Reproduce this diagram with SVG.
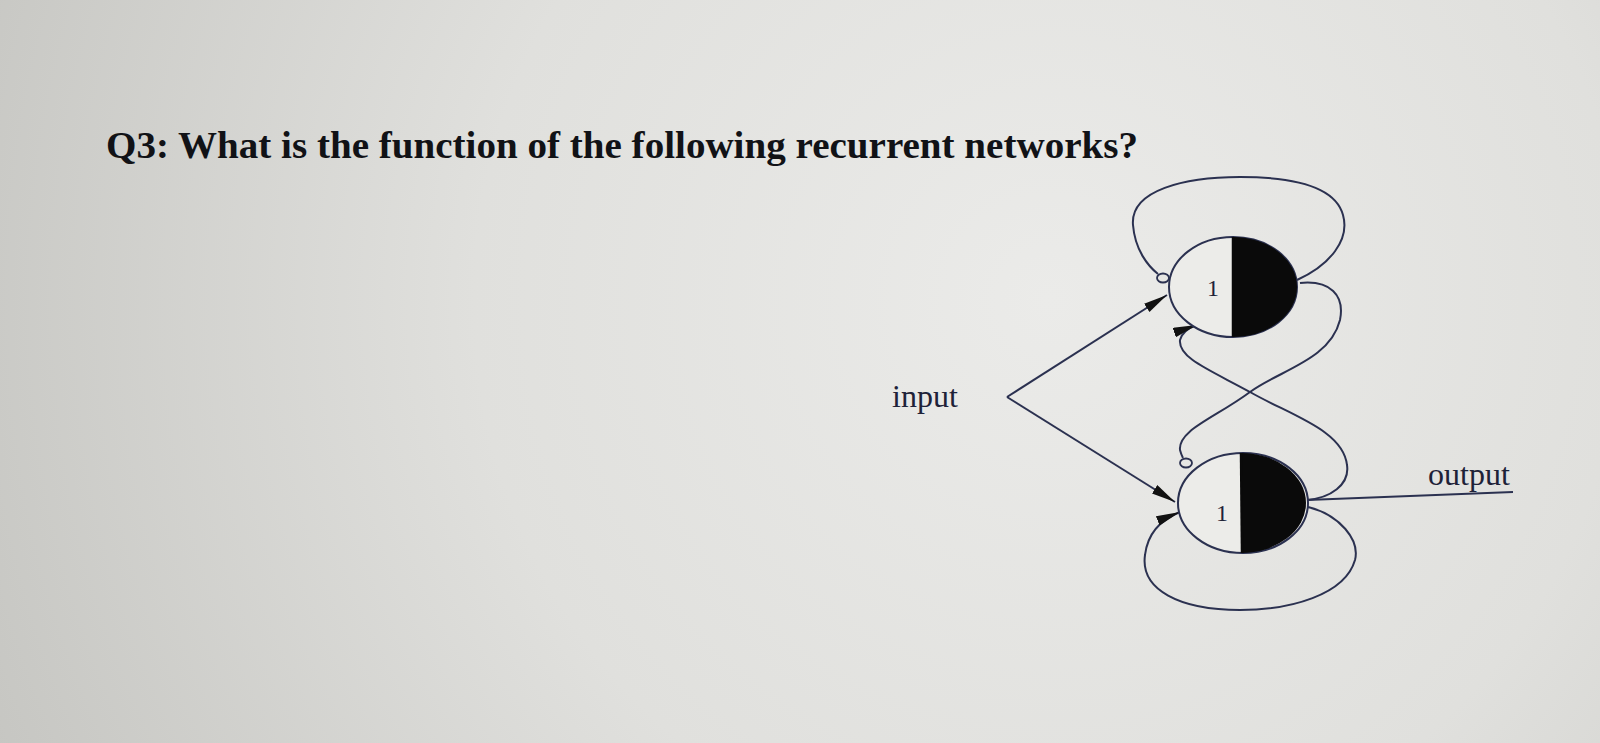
<svg xmlns="http://www.w3.org/2000/svg" width="1600" height="743" viewBox="0 0 1600 743">
<defs>
<radialGradient id="bg" gradientUnits="userSpaceOnUse" cx="1050" cy="300" r="1150">
<stop offset="0" stop-color="#ebebe9"/>
<stop offset="0.5" stop-color="#e0e0dd"/>
<stop offset="1" stop-color="#c6c6c2"/>
</radialGradient>
<marker id="arr" markerUnits="userSpaceOnUse" markerWidth="26" markerHeight="12" refX="24" refY="5" orient="auto">
<path d="M0,0 L24,5 L0,10 Z" fill="#111"/>
</marker>
<style>
.ln{fill:none;stroke:#2b3150;stroke-width:2}
.cell{fill:#ecece9;stroke:#2b3150;stroke-width:2}
.blk{fill:#0a0a0a}
.inh{fill:#e6e6e3;stroke:#2b3150;stroke-width:1.8}
.lbl{font-family:"Liberation Serif","Times New Roman",serif;fill:#1e2238}
</style>
</defs>
<rect x="0" y="0" width="1600" height="743" fill="url(#bg)"/>
<text x="106" y="158" font-family="Liberation Serif, Times New Roman, serif" font-size="37" font-weight="bold" textLength="1032" lengthAdjust="spacingAndGlyphs" fill="#111216">Q3: What is the function of the following recurrent networks?</text>
<g id="connectors">
<path class="ln" d="M1297,280 C1330,265 1350,240 1343,215 C1335,185 1290,177 1240,177 C1185,177 1130,190 1133,225 C1135,250 1148,266 1158,274"/>
<path class="ln" d="M1300,283 C1330,280 1345,295 1340,320 C1330,360 1280,370 1250,392 C1215,418 1178,430 1180,450 C1181,454 1182,456 1183,458"/>
<path class="ln" d="M1307,500 C1330,498 1350,485 1347,465 C1343,430 1290,415 1250,392 C1210,370 1178,358 1180,340 C1182,333 1188,328 1197,325" marker-end="url(#arr)"/>
<path class="ln" d="M1308,507 C1340,515 1360,540 1355,560 C1345,595 1290,610 1240,610 C1180,610 1140,590 1145,555 C1148,530 1165,518 1180,512" marker-end="url(#arr)"/>
<path class="ln" d="M1007,397 L1167,295" marker-end="url(#arr)"/>
<path class="ln" d="M1007,397 L1175,502" marker-end="url(#arr)"/>
<path class="ln" d="M1307,500 L1513,492"/>
</g>
<g id="neuron-top">
<ellipse class="cell" cx="1233" cy="287" rx="64" ry="50"/>
<path class="blk" d="M1233,237 A64,50 0 0 1 1233,337 Z"/>
<line x1="1233" y1="237" x2="1233" y2="337" stroke="#0a0a0a" stroke-width="2.5"/>
<ellipse class="inh" cx="1163" cy="278" rx="6" ry="4.5"/>
<text class="lbl" x="1213" y="296" font-size="24" text-anchor="middle">1</text>
</g>
<g id="neuron-bottom">
<ellipse class="cell" cx="1243" cy="503" rx="65" ry="50"/>
<path class="blk" d="M1241,453 A65,50 0 0 1 1241,553 Z"/>
<line x1="1241" y1="453" x2="1242" y2="553" stroke="#0a0a0a" stroke-width="2.5"/>
<ellipse class="inh" cx="1186" cy="463" rx="6" ry="4.5"/>
<text class="lbl" x="1222" y="521" font-size="24" text-anchor="middle">1</text>
</g>
<g id="label-input">
<text class="lbl" x="892" y="407" font-size="32">input</text>
</g>
<g id="label-output">
<text class="lbl" x="1428" y="485" font-size="32">output</text>
</g>
</svg>
